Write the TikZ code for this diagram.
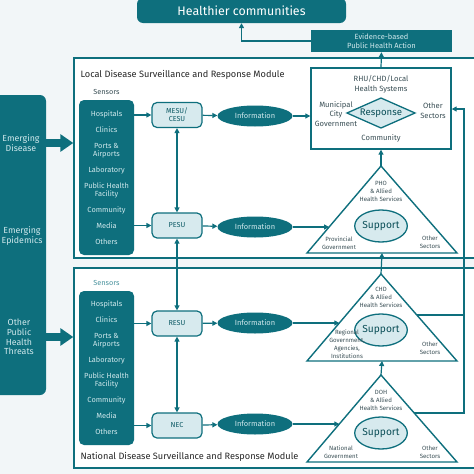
\documentclass[tikz,border=0pt]{standalone}
\usepackage{fontspec}
\setmainfont{Fira Sans}
\usetikzlibrary{arrows.meta,shapes.geometric,calc}
\definecolor{sarcelle}{HTML}{0E6F7D}
\definecolor{clair}{HTML}{D7EAEE}
\definecolor{fond}{HTML}{F2F6F8}
\definecolor{gristexte}{HTML}{3A4F55}
\definecolor{textclair}{HTML}{CFE8EC}

\begin{document}
\begin{tikzpicture}[x=1pt, y=-1pt,
    fleche/.style={-{Triangle[length=5pt,width=5pt]}, line width=1.2pt, draw=sarcelle},
    bifleche/.style={{Triangle[length=5pt,width=5pt]}-{Triangle[length=5pt,width=5pt]}, line width=1.2pt, draw=sarcelle},
    grosse/.style={-{Triangle[length=13pt,width=17pt]}, line width=8pt, draw=sarcelle},
    module/.style={draw=sarcelle, line width=1.4pt, fill=white, minimum width=416pt, minimum height=200pt},
    capteurs/.style={fill=sarcelle, rounded corners=5pt, minimum width=55pt, text=textclair, align=center, font=\fontsize{7.4}{8}\selectfont},
    unite/.style={draw=sarcelle, fill=clair, line width=1.2pt, rounded corners=5pt, minimum width=50pt, minimum height=25pt, text=sarcelle!80!black, align=center, font=\fontsize{7.2}{8}\selectfont},
    info/.style={ellipse, fill=sarcelle, minimum width=75pt, minimum height=21pt, inner sep=0pt, text=textclair, font=\fontsize{7.5}{8}\selectfont},
    trig/.style={draw=sarcelle, line width=1.4pt, fill=white, line join=miter},
    appui/.style={ellipse, draw=sarcelle, fill=clair, line width=1.3pt, minimum width=51pt, minimum height=32pt, inner sep=0pt, text=sarcelle!70!black, font=\fontsize{10.2}{12}\selectfont},
    petit/.style={text=gristexte, align=center, font=\fontsize{6.1}{8}\selectfont},
    moyen/.style={text=gristexte, align=center, font=\fontsize{7.6}{9.5}\selectfont},
    menace/.style={text=textclair, align=center, inner sep=1pt, font=\fontsize{8.8}{9.6}\selectfont}]

    % Fond et cadre
    \fill[fond] (0,0) rectangle (474,474);
    \clip (0,0) rectangle (474,474);

    % Résultat et action
    \node[fill=sarcelle, rounded corners=6pt, minimum width=209pt, minimum height=25pt, text=white, font=\fontsize{12.4}{14}\selectfont] (sante) at (241.5,10.5) {Healthier communities};
    \node[fill=sarcelle, minimum width=141pt, minimum height=22pt, text=textclair, align=center, font=\fontsize{7.5}{8.5}\selectfont] (action) at (381.5,41) {Evidence-based\\Public Health Action};
    \draw[fleche] (action.west) -| (sante.south);

    % Menaces à gauche
    \node[fill=sarcelle, rounded corners=6pt, minimum width=56pt, minimum height=300pt] (menaces) at (18,245) {};
    \node[menace] (ed) at (21,143) {Emerging\\Disease};
    \node[menace] (ee) at (22,236) {Emerging\\Epidemics};
    \node[menace] (ot) at (19,337) {Other\\Public\\Health\\Threats};

    % Les deux modules
    \node[module] (local) at (282,158) {};
    \node[module] (national) at (282,368) {};
    \node[anchor=west, text=black!85, font=\fontsize{9.2}{11}\selectfont] (titreL) at (77,75) {Local Disease Surveillance and Response Module};
    \node[anchor=west, text=black!85, font=\fontsize{9.2}{11}\selectfont] (titreN) at (77,457) {National Disease Surveillance and Response Module};
    \draw[grosse] (menaces.east |- ed) -- (local.west |- ed);
    \draw[grosse] (menaces.east |- ot) -- (local.west |- ot);

    % Capteurs
    \node[moyen, font=\fontsize{7.3}{9}\selectfont] (sensL) at (106.5,92) {Sensors};
    \node[moyen, font=\fontsize{7.3}{9}\selectfont, text=sarcelle!75] (sensN) at (106.5,283) {Sensors};
    \node[capteurs, minimum height=155pt] (capL) at (106.5,177.5) {Hospitals\\[8pt]Clinics\\[8pt]Ports \&\\Airports\\[8pt]Laboratory\\[8pt]Public Health\\Facility\\[8pt]Community\\[8pt]Media\\[8pt]Others};
    \node[capteurs, minimum height=154pt] (capN) at (106.5,368) {Hospitals\\[8pt]Clinics\\[8pt]Ports \&\\Airports\\[8pt]Laboratory\\[8pt]Public Health\\Facility\\[8pt]Community\\[8pt]Media\\[8pt]Others};

    % Unités de surveillance
    \node[unite] (mesu) at (177,115) {MESU/\\CESU};
    \node[unite] (pesu) at (177,225.5) {PESU};
    \node[unite] (resu) at (177,323.5) {RESU};
    \node[unite] (nec) at (177,425.5) {NEC};
    \draw[fleche] (capL.east |- mesu) -- (mesu.west);
    \draw[fleche] (capL.east |- pesu) -- (pesu.west);
    \draw[fleche] (capN.east |- resu) -- (resu.west);
    \draw[fleche] (capN.east |- nec) -- (nec.west);
    \draw[bifleche] (mesu.south) -- (pesu.north);
    \draw[bifleche] (pesu.south) -- (resu.north);
    \draw[bifleche] (resu.south) -- (nec.north);

    % Information
    \node[info] (info1) at (255,116) {Information};
    \node[info] (info2) at (255,227) {Information};
    \node[info] (info3) at (255,323) {Information};
    \node[info] (info4) at (255,424) {Information};
    \draw[fleche] (mesu) -- (info1);
    \draw[fleche] (pesu) -- (info2);
    \draw[fleche] (resu) -- (info3);
    \draw[fleche] (nec) -- (info4);

    % Réponse locale
    \node[draw=sarcelle, line width=1.4pt, fill=white, minimum width=140pt, minimum height=81pt] (rhu) at (381,108.5) {};
    \node[moyen] (rhut) at (381,84) {RHU/CHD/Local\\Health Systems};
    \fill[clair, draw=sarcelle, line width=1.3pt] (347,113) -- (381,98) -- (415,113) -- (381,128) -- cycle;
    \node[text=sarcelle!70!black, font=\fontsize{9.6}{11}\selectfont] (reponse) at (381,113) {Response};
    \node[moyen] (muni) at (336,114) {Municipal\\City\\Government};
    \node[moyen] (autresR) at (433,110.5) {Other\\Sectors};
    \node[moyen] (comm) at (381,138.5) {Community};
    \draw[fleche] (info1) -- (rhu.west |- info1);
    \draw[fleche] (rhu.north) -- (action.south);

    % Triangle provincial
    \coordinate (phoA) at (381,166);
    \coordinate (phoG) at (307,253);
    \coordinate (phoD) at (457,253);
    \draw[trig] (phoA) -- (phoG) -- (phoD) -- cycle;
    \node[petit] (phot) at (381,191) {PHO\\\& Allied\\Health Services};
    \node[appui] (supp1) at (381,226) {Support};
    \node[petit] (prov) at (339,243) {Provincial\\Government};
    \node[petit] (autres1) at (430,242) {Other\\Sectors};
    \coordinate (phoE) at ($(phoG)!0.299!(phoA)$);
    \draw[fleche] (info2) -- (info2 -| phoE);
    \draw[fleche] (phoA) -- (rhu.south);

    % Triangle régional
    \coordinate (chdA) at (381,274);
    \coordinate (chdG) at (307,361);
    \coordinate (chdD) at (457,361);
    \draw[trig] (chdA) -- (chdG) -- (chdD) -- cycle;
    \node[petit] (chdt) at (381,297) {CHD\\\& Allied\\Health Services};
    \node[appui] (supp2) at (381,330) {Support};
    \node[petit] (reg) at (347,344) {Regional\\Government,\\Agencies,\\Institutions};
    \node[petit] (autres2) at (430,348) {Other\\Sectors};
    \coordinate (chdE) at ($(chdG)!0.437!(chdA)$);
    \draw[fleche] (info3) -- (info3 -| chdE);
    \draw[fleche] (chdA) -- ($(phoG)!0.5!(phoD)$);

    % Triangle national
    \coordinate (dohA) at (381,375);
    \coordinate (dohG) at (307,462);
    \coordinate (dohD) at (457,462);
    \draw[trig] (dohA) -- (dohG) -- (dohD) -- cycle;
    \node[petit] (doht) at (381,400) {DOH\\\& Allied\\Health Services};
    \node[appui] (supp3) at (381,433) {Support};
    \node[petit] (natg) at (341,452) {National\\Government};
    \node[petit] (autres3) at (430,452) {Other\\Sectors};
    \coordinate (dohE) at ($(dohG)!0.437!(dohA)$);
    \draw[fleche] (info4) -- (info4 -| dohE);
    \draw[fleche] (dohA) -- ($(chdG)!0.5!(chdD)$);

    % Retour vers la réponse locale
    \coordinate (chdR) at ($(chdD)!0.529!(chdA)$);
    \coordinate (dohR) at ($(dohD)!0.563!(dohA)$);
    \coordinate (retour) at (464,109);
    \draw[line width=1.2pt, draw=sarcelle] (chdR) -- (chdR -| retour);
    \draw[fleche] (dohR) -- (dohR -| retour) -- (retour) -- (rhu.east |- retour);

\end{tikzpicture}
\end{document}
